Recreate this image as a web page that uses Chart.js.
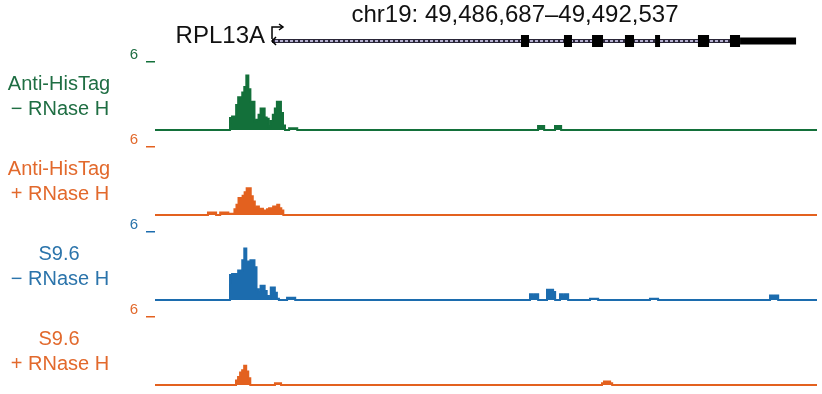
<!DOCTYPE html>
<html>
<head>
<meta charset="utf-8">
<script src="https://cdn.jsdelivr.net/npm/chart.js@4.4.1/dist/chart.umd.min.js"></script>
<style>
  body { margin: 0; background: #fff; }
  #grafico { display: block; }
</style>
</head>
<body>
<canvas id="grafico" width="822" height="394"></canvas>
<script>
const regiao = [49486687, 49492537];
const tituloRegiao = 'chr19: 49,486,687\u201349,492,537';
const binSize = 18;

const trackNames = [
  ['Anti-HisTag', '\u2212 RNase H'],
  ['Anti-HisTag', '+ RNase H'],
  ['S9.6', '\u2212 RNase H'],
  ['S9.6', '+ RNase H']
];
const trackColors = ['#13703a', '#e3611f', '#1c6cae', '#e3611f'];
const labelColors = ['#1f6e43', '#e2692c', '#2b74ab', '#e2692c'];
const tickLabels = ['6'];

// gene RPL13A
const geneNome = 'RPL13A';
const geneInicio = 49487721;
const utrInicio = 49491857;
const geneFim = 49492352;
const exons = [
  [49489921, 49489992],
  [49490301, 49490372],
  [49490549, 49490646],
  [49490840, 49490920],
  [49491106, 49491150],
  [49491485, 49491583],
  [49491768, 49491857]
];

// sinal: [inicio, valores por bin de 18 pb]
const hisMinus = [
  [49487350, [1.05, 1.2, 1.2, 2.2, 2.9, 2.9, 3.3, 3.8, 4.8, 3.6, 2.5, 2.5, 0.75, 0.9, 1.35, 1.9, 1.9,
              1.1, 1.0, 0.3, 0.8, 1.35, 1.9, 2.5, 2.5, 1.5, 0.4, 0, 0, 0.15, 0.15, 0.15, 0.15]],
  [49490072, [0.35, 0.35, 0.35]],
  [49490222, [0.35, 0.35, 0.35]]
];
const hisPlus = [
  [49487155, [0.23, 0.23, 0.23, 0.23, 0, 0, 0.23, 0.23, 0.23, 0.23, 0.1, 0.1, 0.1, 0.5, 0.9, 1.5, 1.5,
              1.7, 2.0, 2.35, 2.35, 1.65, 1.2, 0.6, 0.75, 0.55, 0.55, 0.4, 0.4, 0.5, 0.6, 0.6, 0.75,
              0.75, 0.9, 0.6, 0.4]]
];
const s96Minus = [
  [49487350, [2.2, 2.3, 2.3, 2.3, 2.6, 2.6, 3.5, 4.55, 3.2, 3.4, 3.5, 3.5, 2.9, 0.95, 0.65, 1.25, 1.25,
              0.8, 0.35, 0.1, 1.1, 1.1, 0.65, 0.1, 0, 0, 0, 0, 0.2, 0.2, 0.2, 0.2]],
  [49490001, [0.5, 0.35, 0.5, 0.5]],
  [49490151, [0.9, 0.9, 0.9, 0.7]],
  [49490266, [0.5, 0.35, 0.5, 0.5]],
  [49490531, [0.12, 0.12, 0.12, 0.12]],
  [49491061, [0.12, 0.12, 0.12, 0.12]],
  [49492122, [0.4, 0.3, 0.4, 0.4]]
];
const s96Plus = [
  [49487403, [0.4, 0.7, 1.1, 1.3, 1.7, 1.2, 0.6]],
  [49487747, [0.15, 0.15, 0.15]],
  [49490637, [0.15, 0.3, 0.3, 0.3, 0.15]]
];
const tracks = [hisMinus, hisPlus, s96Minus, s96Plus];

function montarPontos(segmentos) {
  const pts = [{ x: regiao[0], y: 0 }];
  segmentos.forEach(([inicio, valores]) => {
    valores.forEach((v, i) => pts.push({ x: inicio + i * binSize, y: v }));
    pts.push({ x: inicio + valores.length * binSize, y: 0 });
  });
  pts.push({ x: regiao[1], y: 0 });
  return pts;
}

const fonte = '"Liberation Sans", Arial, sans-serif';

const scales = {
  x: { type: 'linear', min: regiao[0], max: regiao[1], display: false }
};
// the last stacked axis ends up on top
[3, 2, 1, 0].forEach(k => {
  scales['y' + k] = {
    type: 'linear',
    position: 'left',
    stack: 'faixas',
    stackWeight: 1,
    min: 0,
    max: 7.5,
    afterBuildTicks: s => { s.ticks = tickLabels.map(t => ({ value: Number(t) })); },
    afterFit: s => { s.width = 155; s.paddingTop = 0; s.paddingBottom = 0; },
    border: { display: false },
    grid: { drawOnChartArea: false, drawTicks: true, tickLength: 9, color: trackColors[k], lineWidth: 1.5 },
    ticks: { color: labelColors[k], font: { family: fonte, size: 15 }, padding: 8, labelOffset: -7 }
  };
});

const cabecalho = {
  id: 'cabecalho',
  afterDraw(chart) {
    const ctx = chart.ctx;
    const x = chart.scales.x;
    ctx.save();

    ctx.fillStyle = '#111';
    ctx.font = '24px ' + fonte;
    ctx.textBaseline = 'middle';
    ctx.textAlign = 'center';
    ctx.fillText(tituloRegiao, 515, 15);
    ctx.textAlign = 'right';
    ctx.fillText(geneNome, 265, 36);

    const yg = 41;
    const xi = x.getPixelForValue(geneInicio);
    const xu = x.getPixelForValue(utrInicio);
    const xf = x.getPixelForValue(geneFim);

    // intron
    ctx.strokeStyle = '#2a2638';
    ctx.lineWidth = 4;
    ctx.beginPath(); ctx.moveTo(xi, yg); ctx.lineTo(xu, yg); ctx.stroke();
    ctx.strokeStyle = '#b4afd0';
    ctx.lineWidth = 2;
    ctx.setLineDash([3, 2]);
    ctx.beginPath(); ctx.moveTo(xi + 3, yg); ctx.lineTo(xu, yg); ctx.stroke();
    ctx.setLineDash([]);

    // exons + UTR
    ctx.fillStyle = '#000';
    exons.forEach(([a, b]) => {
      const xa = x.getPixelForValue(a), xb = x.getPixelForValue(b);
      ctx.fillRect(xa, yg - 6, Math.max(xb - xa, 4), 12);
    });
    ctx.fillRect(xu, yg - 3.5, xf - xu, 7);

    // left end + TSS arrow
    ctx.strokeStyle = '#000';
    ctx.lineWidth = 1.5;
    ctx.beginPath(); ctx.moveTo(xi + 4, yg - 4); ctx.lineTo(xi, yg); ctx.lineTo(xi + 4, yg + 4); ctx.stroke();
    ctx.beginPath();
    ctx.moveTo(xi, yg - 2); ctx.lineTo(xi, 27); ctx.lineTo(xi + 10, 27);
    ctx.stroke();
    ctx.beginPath();
    ctx.moveTo(xi + 7, 24); ctx.lineTo(xi + 11, 27); ctx.lineTo(xi + 7, 30);
    ctx.stroke();

    // track names
    ctx.font = '20px ' + fonte;
    ctx.textAlign = 'center';
    trackNames.forEach((linhas, k) => {
      const s = chart.scales['y' + k];
      ctx.fillStyle = labelColors[k];
      ctx.fillText(linhas[0], 59, s.bottom - 46);
      ctx.fillText(linhas[1], 60, s.bottom - 21);
    });
    ctx.restore();
  }
};

new Chart(document.getElementById('grafico'), {
  type: 'line',
  data: {
    datasets: tracks.map((t, k) => ({
      data: montarPontos(t),
      yAxisID: 'y' + k,
      stepped: 'before',
      fill: 'origin',
      borderColor: trackColors[k],
      backgroundColor: trackColors[k],
      borderWidth: 2,
      pointRadius: 0,
      clip: false
    }))
  },
  options: {
    responsive: false,
    animation: false,
    layout: { padding: { top: 45, bottom: 9, right: 5, left: 0 } },
    plugins: { legend: { display: false }, tooltip: { enabled: false } },
    scales: scales
  },
  plugins: [cabecalho]
});
</script>
</body>
</html>
